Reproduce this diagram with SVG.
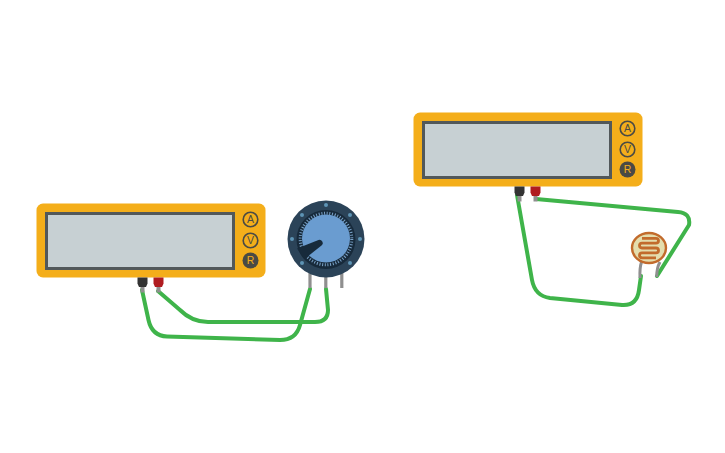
<svg xmlns="http://www.w3.org/2000/svg" width="725" height="453" viewBox="0 0 725 453">
<defs>
<style>
.body{fill:#f4ae1a}
.screen{fill:#c7d0d3;stroke:#52585a;stroke-width:3}
.btn{fill:none;stroke:#4a4a45;stroke-width:1.6}
.btnf{fill:#4a4a45}
.bt{font-family:"Liberation Sans",Arial,sans-serif;font-size:10.500px;text-anchor:middle;fill:#4a4a45}
.btw{fill:#f4ae1a}
.wire{fill:none;stroke:#3fb44a;stroke-width:4;stroke-linecap:round;stroke-linejoin:round}
.pin{fill:none;stroke:#8f8f8f;stroke-width:3.200}
.dot{fill:#5e94b5}
</style>
<g id="meter">
<rect class="body" x="0" y="0" width="229" height="74" rx="6.500"/>
<rect class="screen" x="10" y="10" width="187" height="55"/>
<circle class="btn" cx="214" cy="16" r="7.300"/>
<text class="bt" x="214" y="19.800">A</text>
<circle class="btn" cx="214" cy="37" r="7.300"/>
<text class="bt" x="214" y="40.800">V</text>
<circle class="btnf" cx="214" cy="57" r="8"/>
<text class="bt btw" x="214" y="60.800">R</text>
<rect x="104" y="82" width="4" height="7" fill="#8f8f8f"/>
<path d="M101 74h10v6l-1.500 3.500h-7l-1.500-3.500z" fill="#333"/>
<rect x="120" y="82" width="4" height="7" fill="#8f8f8f"/>
<path d="M117 74h10v6l-1.500 3.500h-7l-1.500-3.500z" fill="#b01c20"/>
</g>
</defs>
<g id="connectors">
<path class="wire" d="M142 290L148.500 320Q152 336 167 336.500L280 340Q296 340 300 325L310 289"/>
<path class="wire" d="M158 291L180 310Q192 322 208 322L315 322Q328 322 328 310L326 289"/>
<path class="wire" d="M517 195L532 280Q535 296 550 298L622 305Q637 306 639 290L641 276"/>
<path class="wire" d="M536 199L678 212Q691 213 689 225L657 276"/>
</g>
<g id="meter-left"><use href="#meter" x="36.500" y="203.500"/></g>
<g id="meter-right"><use href="#meter" x="413.500" y="112.500"/></g>
<g id="potentiometer">
<path class="pin" d="M310 272V288M325.800 272V288M341.800 272V288"/>
<circle cx="326" cy="239" r="38.500" fill="#2b4358"/>
<circle cx="326" cy="239.500" r="29.500" fill="#172a3b"/>
<circle cx="326" cy="239" r="25.800" fill="none" stroke="#7ba3c9" stroke-width="3" stroke-dasharray="1 1.700"/>
<circle cx="326" cy="238.500" r="24" fill="#6a9cd0"/>
<g class="dot">
<circle cx="326" cy="205" r="2"/><circle cx="350" cy="215" r="2"/><circle cx="360" cy="239" r="2"/><circle cx="350" cy="263" r="2"/><circle cx="302" cy="263" r="2"/><circle cx="292" cy="239" r="2"/><circle cx="302" cy="215" r="2"/>
</g>
<path d="M318.500 240 L297 248.500 L304.500 259 L321.500 245.500 A3.200 3.200 0 0 0 318.500 240Z" fill="#172a3b"/>
</g>
<g id="ldr">
<path d="M641.500 262Q639.500 268 640 278" fill="none" stroke="#8f8f8f" stroke-width="3"/>
<path d="M660 262Q656.500 268 656.800 277" fill="none" stroke="#8f8f8f" stroke-width="3"/>
<ellipse cx="649" cy="248" rx="17" ry="15" fill="#e4ddad" stroke="#c26b2c" stroke-width="2.400"/>
<path d="M642 238.300H656Q658.500 238.300 658.500 240.700T656 243.100H642Q639.500 243.100 639.500 245.500T642 248H656Q658.500 248 658.500 250.400T656 252.800H642Q639.500 252.800 639.500 255.200T642 257.800H656" fill="none" stroke="#c26b2c" stroke-width="2.800"/>
</g>
</svg>
